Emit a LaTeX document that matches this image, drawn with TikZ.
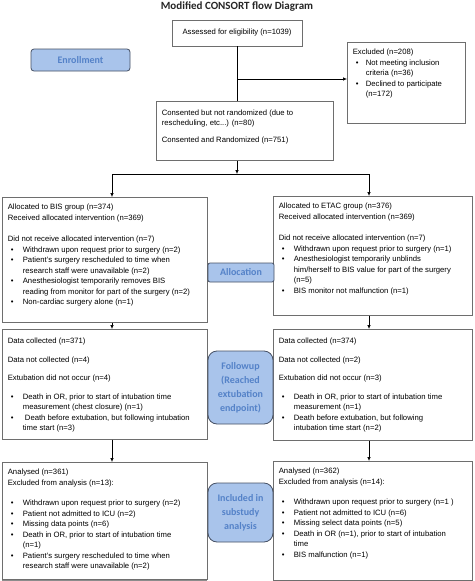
\documentclass[tikz,border=0pt]{standalone}
\usepackage{fontspec}
\setmainfont{Liberation Sans}
\newfontfamily\labelfont{Carlito}
\usetikzlibrary{arrows.meta,positioning,shadows}

\definecolor{lblfill}{RGB}{169,196,235}
\definecolor{lbltext}{RGB}{84,130,200}
\definecolor{lbldraw}{RGB}{70,80,100}
\definecolor{boxdraw}{RGB}{110,110,110}

\newlength{\bulind}\setlength{\bulind}{15pt}
\newcommand{\bitem}[1]{\par\hangindent=\bulind\hangafter=1\noindent\hbox to \bulind{\hskip3pt\textbullet\hfil}#1}
\newcommand{\boxtext}[3]{\parbox[c][#1][t]{#2}{\raggedright\fontsize{7.7}{10.5}\selectfont #3}}

\begin{document}
\begin{tikzpicture}[x=1pt,y=-1pt,
  box/.style={draw=boxdraw,line width=0.7pt,anchor=north west,inner xsep=5.5pt,inner ysep=7pt,fill=white},
  shadowbox/.style={box,drop shadow={shadow xshift=-0.6pt,shadow yshift=-1.2pt,fill=black!45,opacity=1}},
  tag/.style={draw=lbldraw,line width=0.8pt,fill=lblfill,text=lbltext,font=\labelfont\bfseries\fontsize{10}{14}\selectfont,align=center,inner sep=0pt},
  arrow/.style={-{Latex[length=4pt,width=3.6pt]},line width=0.7pt},
  link/.style={line width=0.7pt}
]
\fill[white] (0,0) rectangle (474,581);
\useasboundingbox (0,0) rectangle (474,581);

% title and enrollment
\node[font=\labelfont\bfseries\fontsize{11}{13}\selectfont,text=black!85] (title) at (237,7) {Modified CONSORT flow Diagram};
\node[box,anchor=center,minimum width=130pt,minimum height=26pt,inner sep=0pt,font=\fontsize{7.7}{10.5}\selectfont] (assess) at (237,33) {Assessed for eligibility (n=1039)};
\node[tag,rounded corners=3pt,minimum width=99pt,minimum height=22pt] (enroll) at (80.5,60) {Enrollment};
\node[box] (excl) at (347,42) {\boxtext{67pt}{107pt}{\setlength{\bulind}{13pt}Excluded (n=208)\bitem{Not meeting inclusion\newline criteria (n=36)}\bitem{Declined to participate\newline (n=172)}}};
\node[box] (cons) at (156,101) {\boxtext{45pt}{166pt}{\vspace{1.5pt}Consented but not randomized (due to\\rescheduling, etc...) (n=80)\par\vspace{6.5pt}Consented and Randomized (n=751)}};

% allocation
\node[box] (bis) at (2,197) {\boxtext{111pt}{194pt}{Allocated to BIS group (n=374)\\Received allocated intervention (n=369)\par\vspace{11pt}Did not receive allocated intervention (n=7)\bitem{Withdrawn upon request prior to surgery (n=2)}\bitem{Patient's surgery rescheduled to time when\newline research staff were unavailable (n=2)}\bitem{Anesthesiologist temporarily removes BIS\newline reading from monitor for part of the surgery (n=2)}\bitem{Non-cardiac surgery alone (n=1)}}};
\node[box] (etac) at (273,196) {\boxtext{105pt}{188pt}{Allocated to ETAC group (n=376)\\Received allocated intervention (n=369)\par\vspace{11pt}Did not receive allocated intervention (n=7)\bitem{Withdrawn upon request prior to surgery (n=1)}\bitem{Anesthesiologist temporarily unblinds\newline him/herself to BIS value for part of the surgery\newline (n=5)}\bitem{BIS monitor not malfunction (n=1)}}};

% followup
\node[box] (bisdata) at (2,329) {\boxtext{96pt}{194pt}{\vspace{2pt}Data collected (n=371)\par\vspace{8pt}Data not collected (n=4)\par\vspace{8pt}Extubation did not occur (n=4)\par\vspace{8pt}\bitem{Death in OR, prior to start of intubation time\newline measurement (chest closure) (n=1)}\bitem{ Death before extubation, but following intubation\newline time start (n=3)}}};
\node[box] (etacdata) at (273,329) {\boxtext{97pt}{188pt}{\vspace{2pt}Data collected (n=374)\par\vspace{8pt}Data not collected (n=2)\par\vspace{8pt}Extubation did not occur (n=3)\par\vspace{8pt}\bitem{Death in OR, prior to start of intubation time\newline measurement (n=1)}\bitem{Death before extubation, but following\newline intubation time start (n=2)}}};

% analysis
\node[shadowbox] (bisana) at (2,462) {\boxtext{103pt}{194pt}{Analysed (n=361)\\Excluded from analysis (n=13):\par\vspace{10pt}\bitem{Withdrawn upon request prior to surgery (n=2)}\bitem{Patient not admitted to ICU (n=2)}\bitem{Missing data points (n=6)}\bitem{Death in OR, prior to start of intubation time\newline (n=1)}\bitem{Patient's surgery rescheduled to time when\newline research staff were unavailable (n=2)}}};
\node[shadowbox] (etacana) at (273,461) {\boxtext{105pt}{188pt}{Analysed (n=362)\\Excluded from analysis (n=14):\par\vspace{10pt}\bitem{Withdrawn upon request prior to surgery (n=1 )}\bitem{Patient not admitted to ICU (n=6)}\bitem{Missing select data points (n=5)}\bitem{Death in OR (n=1), prior to start of intubation\newline time}\bitem{BIS malfunction (n=1)}}};

% stage tags
\node[tag,rounded corners=2pt,minimum width=66pt,minimum height=19pt] (alloc) at (241,272.5) {Allocation};
\node[tag,rounded corners=9pt,minimum width=65pt,minimum height=73pt] (follow) at (240.5,387.5) {Followup\\(Reached\\extubation\\endpoint)};
\node[tag,rounded corners=9pt,minimum width=65pt,minimum height=59pt] (incl) at (240.5,512.5) {Included in\\substudy\\analysis};

% connectors
\coordinate (exclfork) at (237,79);
\coordinate (split) at (237,174);
\coordinate (lsplit) at (112,174);
\coordinate (rsplit) at (369,174);
\draw[link] (assess.south) -- (assess.south |- cons.north);
\draw[arrow] (exclfork) -- (exclfork -| excl.west);
\draw[arrow] (split |- cons.south) -- (split);
\draw[link] (lsplit) -- (rsplit);
\draw[arrow] (lsplit) -- (lsplit |- bis.north);
\draw[arrow] (rsplit) -- (rsplit |- etac.north);
\draw[arrow] (lsplit |- bis.south) -- (lsplit |- bisdata.north);
\draw[arrow] (rsplit |- etac.south) -- (rsplit |- etacdata.north);
\draw[arrow] (lsplit |- bisdata.south) -- (lsplit |- bisana.north);
\draw[arrow] (rsplit |- etacdata.south) -- (rsplit |- etacana.north);
\end{tikzpicture}
\end{document}
